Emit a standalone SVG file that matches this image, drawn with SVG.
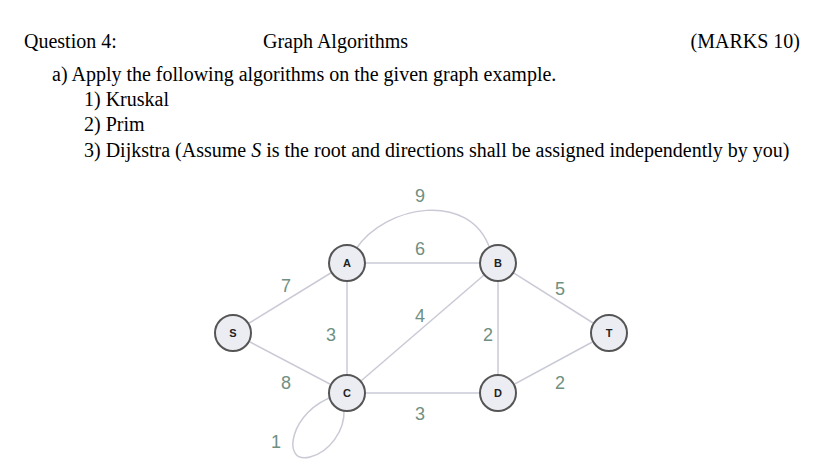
<svg xmlns="http://www.w3.org/2000/svg" width="825" height="473" viewBox="0 0 825 473">
<style>
.t{font-family:"Liberation Serif",serif;font-size:20px;fill:#000}
.n circle{fill:#ecedf3;stroke:#555;stroke-width:2}
.n text{font-family:"Liberation Sans",sans-serif;font-weight:bold;font-size:11px;text-anchor:middle;fill:#222}
.e{stroke:#c9cad6;stroke-width:1.5;fill:none}
.w{font-family:"Liberation Sans",sans-serif;font-size:18px;fill:#6f8f82;text-anchor:middle}
</style>
<rect width="825" height="473" fill="#fff"/>
<text class="t" x="24" y="48">Question 4:</text>
<text class="t" x="263" y="48">Graph Algorithms</text>
<text class="t" x="800" y="48" text-anchor="end">(MARKS 10)</text>
<text class="t" x="52" y="81">a)  Apply the following algorithms on the given graph example.</text>
<text class="t" x="84" y="106">1)  Kruskal</text>
<text class="t" x="84" y="131">2)  Prim</text>
<text class="t" x="84" y="157">3)  Dijkstra (Assume <tspan font-style="italic">S</tspan> is the root and directions shall be assigned independently by you)</text>
<g id="connectors">
<line class="e" x1="233" y1="333" x2="347" y2="263"/>
<line class="e" x1="233" y1="333" x2="347" y2="393"/>
<line class="e" x1="347" y1="263" x2="498" y2="263"/>
<line class="e" x1="347" y1="263" x2="347" y2="393"/>
<line class="e" x1="347" y1="393" x2="498" y2="263"/>
<line class="e" x1="498" y1="263" x2="498" y2="393"/>
<line class="e" x1="498" y1="263" x2="609" y2="333"/>
<line class="e" x1="347" y1="393" x2="498" y2="393"/>
<line class="e" x1="498" y1="393" x2="609" y2="333"/>
<path class="e" d="M356 249 C385 205 470 190 490 249"/>
<path class="e" d="M335 396 C290 410 280 465 310 457 C330 452 345 430 344 410"/>
<text class="w" x="420" y="202">9</text>
<text class="w" x="420" y="255">6</text>
<text class="w" x="286" y="292">7</text>
<text class="w" x="331" y="341">3</text>
<text class="w" x="420" y="322">4</text>
<text class="w" x="488" y="341">2</text>
<text class="w" x="560" y="295">5</text>
<text class="w" x="286" y="389">8</text>
<text class="w" x="560" y="389">2</text>
<text class="w" x="420" y="420">3</text>
<text class="w" x="276" y="448">1</text>
</g>
<g id="S" class="n"><circle cx="233" cy="333" r="18"/><text x="233" y="337">S</text></g>
<g id="A" class="n"><circle cx="347" cy="263" r="18"/><text x="347" y="267">A</text></g>
<g id="B" class="n"><circle cx="498" cy="263" r="18"/><text x="498" y="267">B</text></g>
<g id="C" class="n"><circle cx="347" cy="393" r="18"/><text x="347" y="397">C</text></g>
<g id="D" class="n"><circle cx="498" cy="393" r="18"/><text x="498" y="397">D</text></g>
<g id="T" class="n"><circle cx="609" cy="333" r="18"/><text x="609" y="337">T</text></g>
</svg>
